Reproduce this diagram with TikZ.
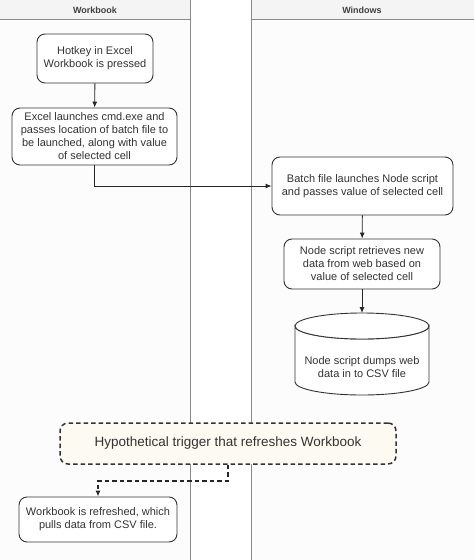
\documentclass[tikz,border=0pt]{standalone}
\usepackage{fontspec}
\setmainfont{Liberation Sans}
\usetikzlibrary{arrows.meta}

\definecolor{lanefill}{HTML}{FCFCFC}
\definecolor{headfill}{HTML}{F4F4F4}
\definecolor{laneline}{HTML}{8A8A8A}
\definecolor{boxline}{HTML}{333333}
\definecolor{triggerfill}{HTML}{FDFAF2}

\tikzset{
	stepbox/.style={draw=boxline, line width=0.9pt, rounded corners=8pt, fill=white, align=center, inner sep=2pt},
	datastore/.style={draw=boxline, line width=0.9pt, fill=white},
	lanehead/.style={font=\fontsize{9}{11}\selectfont\bfseries, text=black!75},
	flow/.style={->, draw=black!85, line width=0.9pt},
}

\begin{document}
\begin{tikzpicture}[x=1pt, y=-1pt, every node/.style={font=\fontsize{11}{13}\selectfont, text=black!80}, >={Latex[length=6pt,width=5pt]}]
	\useasboundingbox (0,0) rectangle (474,560);
	% swimlanes
	\fill[lanefill] (0,0) rectangle (190,560);
	\fill[lanefill] (251,0) rectangle (474,560);
	\fill[headfill] (0,0) rectangle (190,19);
	\fill[headfill] (251,0) rectangle (474,19);
	\draw[laneline, line width=0.9pt] (0,19) -- (190,19);
	\draw[laneline, line width=0.9pt] (251,19) -- (474,19);
	\draw[laneline, line width=0.8pt] (190,0) -- (190,560);
	\draw[laneline, line width=0.8pt] (251,0) -- (251,560);
	\node[lanehead] (wbhead) at (95,10) {Workbook};
	\node[lanehead] (winhead) at (362,10) {Windows};
	% steps
	\node[stepbox, minimum width=116, minimum height=49] (hotkey) at (95,58.5) {Hotkey in Excel\\Workbook is pressed};
	\node[stepbox, minimum width=165, minimum height=57] (launch) at (94.5,136.5) {Excel launches cmd.exe and\\passes location of batch file to\\be launched, along with value\\of selected cell};
	\node[stepbox, minimum width=181, minimum height=58] (batch) at (362.5,186) {Batch file launches Node script\\and passes value of selected cell};
	\node[stepbox, minimum width=156, minimum height=50] (fetch) at (362,264) {Node script retrieves new\\data from web based on\\value of selected cell};
	% data store (cylinder)
	\filldraw[datastore] (295,326) -- (295,382) arc[start angle=180, end angle=0, x radius=67, y radius=13] -- (429,326) arc[start angle=0, end angle=180, x radius=67, y radius=13] -- cycle;
	\draw[datastore] (362,326) ellipse[x radius=67, y radius=13];
	\coordinate (dumptop) at (362,313);
	\node[align=center] (dump) at (362,367) {Node script dumps web\\data in to CSV file};
	\node[stepbox, dashed, dash pattern=on 4.5pt off 3pt, line width=1.5pt, fill=triggerfill, minimum width=336, minimum height=41, font=\fontsize{13.5}{16}\selectfont] (trigger) at (228,443.5) {Hypothetical trigger that refreshes Workbook};
	\node[stepbox, minimum width=158, minimum height=45] (refresh) at (98,519.5) {Workbook is refreshed, which\\pulls data from CSV file.};
	% connectors
	\draw[flow] (hotkey) -- (launch);
	\draw[flow] (launch.south) |- (batch.west);
	\draw[flow] (batch) -- (fetch);
	\draw[flow] (fetch) -- (dumptop);
	\draw[flow, dash pattern=on 4.5pt off 3pt, line width=1.5pt] (trigger.south) -- ++(0,16) -| (refresh.north);
\end{tikzpicture}
\end{document}
